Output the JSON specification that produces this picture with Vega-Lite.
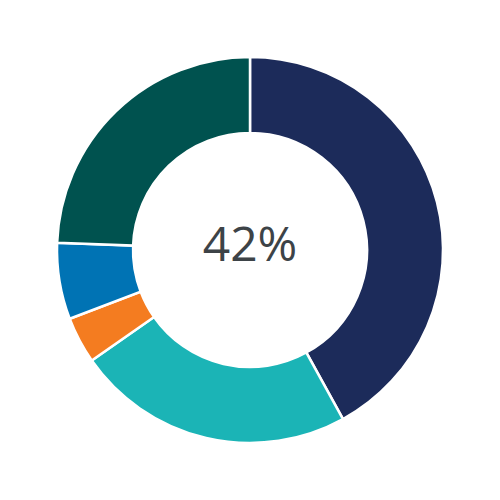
{
  "$schema": "https://vega.github.io/schema/vega-lite/v6.json",
  "width": 500,
  "height": 500,
  "autosize": {"type": "fit", "contains": "padding"},
  "background": "white",
  "view": {"stroke": null},
  "layer": [
    {
      "data": {
        "values": [
          {"segment": "A", "rank": 1, "share": 42.0},
          {"segment": "B", "rank": 2, "share": 23.3},
          {"segment": "C", "rank": 3, "share": 3.9},
          {"segment": "D", "rank": 4, "share": 6.4},
          {"segment": "E", "rank": 5, "share": 24.4}
        ]
      },
      "mark": {
        "type": "arc",
        "outerRadius": 193,
        "innerRadius": 117,
        "stroke": "white",
        "strokeWidth": 2.5
      },
      "encoding": {
        "theta": {"field": "share", "type": "quantitative", "stack": true},
        "order": {"field": "rank", "type": "quantitative"},
        "color": {
          "field": "segment",
          "type": "nominal",
          "legend": null,
          "scale": {
            "domain": ["A", "B", "C", "D", "E"],
            "range": ["#1c2b5a", "#1bb4b6", "#f47c20", "#0073b4", "#00524f"]
          }
        }
      }
    },
    {
      "data": {"values": [{"label": "42%"}]},
      "mark": {
        "type": "text",
        "font": "Open Sans",
        "fontSize": 48,
        "color": "#3d4347",
        "baseline": "middle",
        "align": "center",
        "dy": -3
      },
      "encoding": {
        "text": {"field": "label", "type": "nominal"}
      }
    }
  ]
}
